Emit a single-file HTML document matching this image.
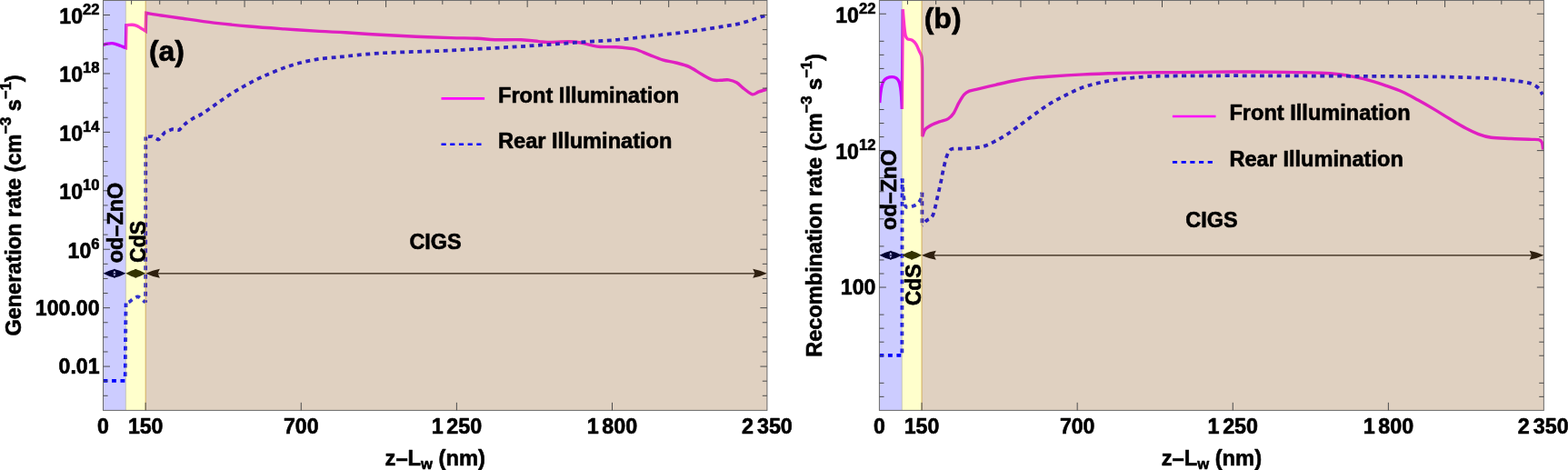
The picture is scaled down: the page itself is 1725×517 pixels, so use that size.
<!DOCTYPE html>
<html lang="en">
<head>
<meta charset="utf-8">
<title>Generation and recombination rate profiles</title>
<style>
html,body{margin:0;padding:0;background:#fff;}
body{width:1725px;height:517px;overflow:hidden;}
svg{display:block;}
text{white-space:pre;}
</style>
</head>
<body>
<svg width="1725" height="517" viewBox="0 0 1725 517">
<rect width="1725" height="517" fill="#fff"/>
<clipPath id="clip1"><rect x="113.50" y="0.45" width="730.40" height="450.95"/></clipPath>
<g clip-path="url(#clip1)">
<path d="M113.50 49.30 C114.25 49.10 116.38 48.38 118.00 48.10 C119.62 47.82 121.70 47.57 123.20 47.60 C124.70 47.63 125.70 47.93 127.00 48.30 C128.30 48.67 129.67 49.28 131.00 49.80 C132.33 50.32 133.77 50.93 135.00 51.40 C136.23 51.87 137.83 52.40 138.40 52.60 L138.90 27.80 C139.42 27.73 140.90 27.48 142.00 27.40 C143.10 27.32 144.33 27.23 145.50 27.30 C146.67 27.37 147.88 27.48 149.00 27.80 C150.12 28.12 151.03 28.57 152.20 29.20 C153.37 29.83 154.67 30.75 156.00 31.60 C157.33 32.45 159.50 33.85 160.20 34.30 L160.70 14.30 C163.48 14.75 171.40 16.10 177.40 17.00 C183.40 17.90 187.03 18.35 196.70 19.70 C206.37 21.05 222.50 23.55 235.40 25.10 C248.30 26.65 261.20 27.87 274.10 29.00 C287.00 30.13 299.90 31.00 312.80 31.90 C325.70 32.80 340.30 33.75 351.50 34.40 C362.70 35.05 368.80 35.15 380.00 35.80 C391.20 36.45 405.80 37.57 418.70 38.30 C431.60 39.03 444.52 39.65 457.40 40.20 C470.28 40.75 484.73 41.27 496.00 41.60 C507.27 41.93 516.93 41.85 525.00 42.20 C533.07 42.55 536.33 43.45 544.40 43.70 C552.47 43.95 565.33 43.38 573.40 43.70 C581.47 44.02 587.97 45.15 592.80 45.60 C597.63 46.05 596.87 46.37 602.40 46.40 C607.93 46.43 619.95 45.70 626.00 45.80 C632.05 45.90 634.57 46.32 638.70 47.00 C642.83 47.68 647.18 49.15 650.80 49.90 C654.42 50.65 655.97 51.18 660.40 51.50 C664.83 51.82 672.00 51.52 677.40 51.80 C682.80 52.08 689.03 52.75 692.80 53.20 C696.57 53.65 696.38 53.32 700.00 54.50 C703.62 55.68 709.67 58.42 714.50 60.30 C719.33 62.18 724.17 64.35 729.00 65.80 C733.83 67.25 738.67 67.73 743.50 69.00 C748.33 70.27 753.17 71.22 758.00 73.40 C762.83 75.58 768.15 79.68 772.50 82.10 C776.85 84.52 780.72 86.87 784.10 87.90 C787.48 88.93 789.88 88.30 792.80 88.30 C795.72 88.30 798.68 87.48 801.60 87.90 C804.52 88.32 807.40 89.12 810.30 90.80 C813.20 92.48 816.10 95.83 819.00 98.00 C821.90 100.17 825.05 103.32 827.70 103.80 C830.35 104.28 832.13 101.87 834.90 100.90 C837.67 99.93 842.73 98.48 844.30 98.00" fill="none" stroke="#ff00ff" stroke-width="3.4" stroke-linejoin="miter" stroke-miterlimit="3"/>
<g fill="none" stroke="#0000ff" stroke-width="3.75" stroke-dasharray="4.9 4.6" stroke-linejoin="bevel">
<path d="M113.50 418.80L137.70 418.80" stroke-dashoffset="0.00"/>
<path d="M137.70 418.80L138.60 333.40" stroke-dashoffset="4.75"/>
<path d="M138.60 333.40 C139.27 333.13 141.30 332.55 142.60 331.80 C143.90 331.05 144.95 329.80 146.40 328.90 C147.85 328.00 149.85 326.48 151.30 326.40 C152.75 326.32 153.63 327.35 155.10 328.40 C156.57 329.45 159.27 331.98 160.10 332.70" stroke-dashoffset="6.45"/>
<path d="M160.10 332.70L160.30 150.60" stroke-dashoffset="2.45"/>
<path d="M160.30 150.60 L167.30 150.00 L174.40 153.80 L181.30 145.60 L189.30 142.10 L197.00 143.10 L204.40 135.70 C205.70 134.80 209.45 131.92 212.20 130.30 C214.95 128.68 218.17 127.55 220.90 126.00 C223.63 124.45 226.02 122.77 228.60 121.00 C231.18 119.23 233.82 117.23 236.40 115.40 C238.98 113.57 241.53 111.77 244.10 110.00 C246.67 108.23 249.07 106.58 251.80 104.80 C254.53 103.02 257.75 100.95 260.50 99.30 C263.25 97.65 265.55 96.43 268.30 94.90 C271.05 93.37 274.10 91.62 277.00 90.10 C279.90 88.58 282.80 87.17 285.70 85.80 C288.60 84.43 289.88 83.78 294.40 81.90 C298.92 80.02 306.52 76.70 312.80 74.50 C319.08 72.30 325.65 70.32 332.10 68.70 C338.55 67.08 345.05 65.77 351.50 64.80 C357.95 63.83 365.40 63.45 370.80 62.90 C376.20 62.35 375.92 62.25 383.90 61.50 C391.88 60.75 406.45 59.17 418.70 58.40 C430.95 57.63 444.52 57.38 457.40 56.90 C470.28 56.42 483.12 56.08 496.00 55.50 C508.88 54.92 521.80 54.13 534.70 53.40 C547.60 52.67 560.50 51.93 573.40 51.10 C586.30 50.27 599.20 49.32 612.10 48.40 C625.00 47.48 639.48 46.38 650.80 45.60 C662.12 44.82 669.13 44.68 680.00 43.70 C690.87 42.72 703.55 41.12 716.00 39.70 C728.45 38.28 741.80 36.92 754.70 35.20 C767.60 33.48 783.72 30.92 793.40 29.40 C803.08 27.88 806.35 27.62 812.80 26.10 C819.25 24.58 827.43 21.75 832.10 20.30 C836.77 18.85 838.77 18.08 840.80 17.40 C842.83 16.72 843.72 16.40 844.30 16.20" stroke-dashoffset="6.80"/>
</g>
<g fill="#000"><path d="M113.50 300.85 Q120.17 297.15 126.84 295.85 L124.24 300.85 L126.84 305.85 Q120.17 304.55 113.50 300.85Z"/><path d="M138.39 300.85 Q131.72 297.15 125.04 295.85 L127.64 300.85 L125.04 305.85 Q131.72 304.55 138.39 300.85Z"/><line x1="119.50" y1="300.85" x2="132.39" y2="300.85" stroke="#000" stroke-width="1.3"/><path d="M138.39 300.85 Q144.43 297.15 150.48 295.85 L149.48 300.85 L150.48 305.85 Q144.43 304.55 138.39 300.85Z"/><path d="M160.16 300.85 Q154.12 297.15 148.08 295.85 L149.08 300.85 L148.08 305.85 Q154.12 304.55 160.16 300.85Z"/><line x1="144.39" y1="300.85" x2="154.16" y2="300.85" stroke="#000" stroke-width="1.6"/><line x1="172.16" y1="300.85" x2="831.90" y2="300.85" stroke="#000" stroke-width="1.3"/><path d="M160.16 300.85 Q168.01 297.15 175.86 295.85 L173.56 300.85 L175.86 305.85 Q168.01 304.55 160.16 300.85Z"/><path d="M843.90 300.85 Q836.05 297.15 828.20 295.85 L830.50 300.85 L828.20 305.85 Q836.05 304.55 843.90 300.85Z"/></g>
</g>
<rect x="113.50" y="0.45" width="24.89" height="450.95" fill="#0000ff" fill-opacity="0.2"/>
<rect x="138.39" y="0.45" width="21.78" height="450.95" fill="#ffff00" fill-opacity="0.2"/>
<rect x="160.16" y="0.45" width="683.74" height="450.95" fill="#996633" fill-opacity="0.3"/>
<line x1="138.39" y1="0.45" x2="138.39" y2="451.40" stroke="#8a8a70" stroke-opacity="0.45" stroke-width="0.8"/>
<line x1="160.16" y1="0.45" x2="160.16" y2="451.40" stroke="#c89632" stroke-opacity="0.8" stroke-width="0.9"/>
<g fill="none">
<rect x="113.50" y="0.45" width="730.40" height="450.95" stroke="#6a6a6a" stroke-width="1"/>
<path d="M144.61 0.45v4.40 M175.72 0.45v4.40 M206.83 0.45v4.40 M237.94 0.45v4.40 M269.05 0.45v7.50 M300.16 0.45v4.40 M331.27 0.45v4.40 M362.38 0.45v4.40 M393.49 0.45v4.40 M424.60 0.45v7.50 M455.71 0.45v4.40 M486.82 0.45v4.40 M517.93 0.45v4.40 M549.04 0.45v4.40 M580.15 0.45v7.50 M611.26 0.45v4.40 M642.37 0.45v4.40 M673.48 0.45v4.40 M704.59 0.45v4.40 M735.70 0.45v7.50 M766.81 0.45v4.40 M797.92 0.45v4.40 M829.03 0.45v4.40 M160.16 451.40v-8.60 M331.27 451.40v-8.60 M502.38 451.40v-8.60 M673.48 451.40v-8.60 M113.50 435.29h5.10 M843.90 435.29h-5.10 M113.50 419.19h5.10 M843.90 419.19h-5.10 M113.50 403.08h7.50 M843.90 403.08h-7.50 M113.50 386.97h5.10 M843.90 386.97h-5.10 M113.50 370.87h5.10 M843.90 370.87h-5.10 M113.50 354.76h5.10 M843.90 354.76h-5.10 M113.50 338.65h7.50 M843.90 338.65h-7.50 M113.50 322.54h5.10 M843.90 322.54h-5.10 M113.50 306.44h5.10 M843.90 306.44h-5.10 M113.50 290.33h5.10 M843.90 290.33h-5.10 M113.50 274.22h7.50 M843.90 274.22h-7.50 M113.50 258.12h5.10 M843.90 258.12h-5.10 M113.50 242.01h5.10 M843.90 242.01h-5.10 M113.50 225.90h5.10 M843.90 225.90h-5.10 M113.50 209.79h7.50 M843.90 209.79h-7.50 M113.50 193.69h5.10 M843.90 193.69h-5.10 M113.50 177.58h5.10 M843.90 177.58h-5.10 M113.50 161.47h5.10 M843.90 161.47h-5.10 M113.50 145.37h7.50 M843.90 145.37h-7.50 M113.50 129.26h5.10 M843.90 129.26h-5.10 M113.50 113.15h5.10 M843.90 113.15h-5.10 M113.50 97.05h5.10 M843.90 97.05h-5.10 M113.50 80.94h7.50 M843.90 80.94h-7.50 M113.50 64.83h5.10 M843.90 64.83h-5.10 M113.50 48.73h5.10 M843.90 48.73h-5.10 M113.50 32.62h5.10 M843.90 32.62h-5.10 M113.50 16.51h7.50 M843.90 16.51h-7.50" stroke="#4c4c4c" stroke-width="1"/>
</g>
<clipPath id="clip2"><rect x="967.40" y="0.45" width="730.95" height="450.95"/></clipPath>
<g clip-path="url(#clip2)">
<path d="M967.70 113.00 C967.87 111.25 968.30 105.60 968.70 102.50 C969.10 99.40 969.48 96.72 970.10 94.40 C970.72 92.08 971.43 90.05 972.40 88.60 C973.37 87.15 974.35 86.37 975.90 85.70 C977.45 85.03 979.97 84.52 981.70 84.60 C983.43 84.68 985.05 85.25 986.30 86.20 C987.55 87.15 988.47 88.55 989.20 90.30 C989.93 92.05 990.28 93.90 990.70 96.70 C991.12 99.50 991.43 103.22 991.70 107.10 C991.97 110.98 992.20 117.85 992.30 120.00 L993.20 10.20 C993.47 13.33 994.30 24.17 994.80 29.00 C995.30 33.83 995.60 36.90 996.20 39.20 C996.80 41.50 997.18 41.97 998.40 42.80 C999.62 43.63 1001.93 43.23 1003.50 44.20 C1005.07 45.17 1006.47 46.53 1007.80 48.60 C1009.13 50.67 1010.48 54.30 1011.50 56.60 C1012.52 58.90 1013.38 59.33 1013.90 62.40 C1014.42 65.47 1014.48 72.90 1014.60 75.00 L1014.60 150.00 C1014.68 149.83 1014.53 150.30 1015.10 149.00 C1015.67 147.70 1016.22 144.20 1018.00 142.20 C1019.78 140.20 1023.22 138.38 1025.80 137.00 C1028.38 135.62 1030.60 134.97 1033.50 133.90 C1036.40 132.83 1040.62 132.12 1043.20 130.60 C1045.78 129.08 1047.07 127.70 1049.00 124.80 C1050.93 121.90 1052.87 116.65 1054.80 113.20 C1056.73 109.75 1058.67 106.27 1060.60 104.10 C1062.53 101.93 1063.82 101.23 1066.40 100.20 C1068.98 99.17 1071.27 99.05 1076.10 97.90 C1080.93 96.75 1088.97 94.78 1095.40 93.30 C1101.83 91.82 1108.25 90.23 1114.70 89.00 C1121.15 87.77 1127.65 86.70 1134.10 85.90 C1140.55 85.10 1143.73 84.87 1153.40 84.20 C1163.07 83.53 1179.20 82.52 1192.10 81.90 C1205.00 81.28 1219.48 80.83 1230.80 80.50 C1242.12 80.17 1248.80 80.05 1260.00 79.90 C1271.20 79.75 1282.00 79.75 1298.00 79.60 C1314.00 79.45 1336.67 79.03 1356.00 79.00 C1375.33 78.97 1397.87 79.20 1414.00 79.40 C1430.13 79.60 1442.93 79.80 1452.80 80.20 C1462.67 80.60 1466.75 81.03 1473.20 81.80 C1479.65 82.57 1485.70 83.63 1491.50 84.80 C1497.30 85.97 1502.42 87.22 1508.00 88.80 C1513.58 90.38 1519.20 92.27 1525.00 94.30 C1530.80 96.33 1536.97 98.38 1542.80 101.00 C1548.63 103.62 1554.20 106.82 1560.00 110.00 C1565.80 113.18 1571.77 116.63 1577.60 120.10 C1583.43 123.57 1589.18 127.32 1595.00 130.80 C1600.82 134.28 1607.33 138.25 1612.50 141.00 C1617.67 143.75 1621.37 145.58 1626.00 147.30 C1630.63 149.02 1634.22 150.43 1640.30 151.30 C1646.38 152.17 1655.55 152.17 1662.50 152.50 C1669.45 152.83 1676.97 153.12 1682.00 153.30 C1687.03 153.48 1690.33 153.08 1692.70 153.60 C1695.07 154.12 1695.38 154.58 1696.20 156.40 C1697.02 158.22 1697.37 163.15 1697.60 164.50" fill="none" stroke="#ff00ff" stroke-width="3.4" stroke-linejoin="miter" stroke-miterlimit="3"/>
<g fill="none" stroke="#0000ff" stroke-width="3.75" stroke-dasharray="4.9 4.6" stroke-linejoin="bevel">
<path d="M967.40 390.90L992.40 390.90" stroke-dashoffset="0.00"/>
<path d="M992.40 390.90L992.60 196.50" stroke-dashoffset="6.95"/>
<path d="M992.60 196.50 C992.78 199.05 993.22 207.08 993.70 211.80 C994.18 216.52 994.83 222.10 995.50 224.80 C996.17 227.50 996.37 227.63 997.70 228.00 C999.03 228.37 1001.57 227.65 1003.50 227.00 C1005.43 226.35 1007.72 225.43 1009.30 224.10 C1010.88 222.77 1012.15 221.05 1013.00 219.00 C1013.85 216.95 1014.17 213.00 1014.40 211.80" stroke-dashoffset="0.00"/>
<path d="M1014.40 211.80L1014.40 248.00" stroke-dashoffset="0.00"/>
<path d="M1014.40 248.00 C1014.52 247.88 1014.25 248.22 1015.10 247.30 C1015.95 246.38 1018.05 243.72 1019.50 242.50 C1020.95 241.28 1022.60 241.13 1023.80 240.00 C1025.00 238.87 1025.85 237.75 1026.70 235.70 C1027.55 233.65 1028.17 230.72 1028.90 227.70 C1029.63 224.68 1030.37 220.87 1031.10 217.60 C1031.83 214.33 1032.58 211.25 1033.30 208.10 C1034.02 204.95 1034.72 201.98 1035.40 198.70 C1036.08 195.42 1036.43 192.70 1037.40 188.40 C1038.37 184.10 1039.92 176.78 1041.20 172.90 C1042.48 169.02 1043.80 166.65 1045.10 165.10 C1046.40 163.55 1047.07 163.85 1049.00 163.60 C1050.93 163.35 1053.80 163.67 1056.70 163.60 C1059.60 163.53 1063.17 163.43 1066.40 163.20 C1069.63 162.97 1072.88 162.78 1076.10 162.20 C1079.32 161.62 1082.48 160.90 1085.70 159.70 C1088.92 158.50 1092.17 156.70 1095.40 155.00 C1098.63 153.30 1101.88 151.50 1105.10 149.50 C1108.32 147.50 1109.87 146.47 1114.70 143.00 C1119.53 139.53 1127.65 133.35 1134.10 128.70 C1140.55 124.05 1146.95 119.13 1153.40 115.10 C1159.85 111.07 1166.35 107.72 1172.80 104.50 C1179.25 101.28 1185.65 98.12 1192.10 95.80 C1198.55 93.48 1205.05 92.05 1211.50 90.60 C1217.95 89.15 1225.40 87.90 1230.80 87.10 C1236.20 86.30 1239.15 86.25 1243.90 85.80 C1248.65 85.35 1253.50 84.75 1259.30 84.40 C1265.10 84.05 1269.02 83.88 1278.70 83.70 C1288.38 83.52 1298.07 83.37 1317.40 83.30 C1336.73 83.23 1368.92 83.23 1394.70 83.30 C1420.48 83.37 1447.88 83.58 1472.10 83.70 C1496.32 83.82 1519.87 83.85 1540.00 84.00 C1560.13 84.15 1576.35 84.23 1592.90 84.60 C1609.45 84.97 1627.70 85.58 1639.30 86.20 C1650.90 86.82 1656.30 87.63 1662.50 88.30 C1668.70 88.97 1672.63 89.50 1676.50 90.20 C1680.37 90.90 1683.00 91.35 1685.70 92.50 C1688.40 93.65 1690.83 95.17 1692.70 97.10 C1694.57 99.03 1696.20 102.93 1696.90 104.10" stroke-dashoffset="4.30"/>
</g>
<g fill="#000"><path d="M967.40 280.85 Q974.07 277.15 980.74 275.85 L978.14 280.85 L980.74 285.85 Q974.07 284.55 967.40 280.85Z"/><path d="M992.29 280.85 Q985.62 277.15 978.94 275.85 L981.54 280.85 L978.94 285.85 Q985.62 284.55 992.29 280.85Z"/><line x1="973.40" y1="280.85" x2="986.29" y2="280.85" stroke="#000" stroke-width="1.3"/><path d="M992.29 280.85 Q998.33 277.15 1004.38 275.85 L1003.38 280.85 L1004.38 285.85 Q998.33 284.55 992.29 280.85Z"/><path d="M1014.06 280.85 Q1008.02 277.15 1001.98 275.85 L1002.98 280.85 L1001.98 285.85 Q1008.02 284.55 1014.06 280.85Z"/><line x1="998.29" y1="280.85" x2="1008.06" y2="280.85" stroke="#000" stroke-width="1.6"/><line x1="1026.07" y1="280.85" x2="1686.35" y2="280.85" stroke="#000" stroke-width="1.3"/><path d="M1014.06 280.85 Q1021.91 277.15 1029.76 275.85 L1027.46 280.85 L1029.76 285.85 Q1021.91 284.55 1014.06 280.85Z"/><path d="M1698.35 280.85 Q1690.50 277.15 1682.65 275.85 L1684.95 280.85 L1682.65 285.85 Q1690.50 284.55 1698.35 280.85Z"/></g>
</g>
<rect x="967.40" y="0.45" width="24.89" height="450.95" fill="#0000ff" fill-opacity="0.2"/>
<rect x="992.29" y="0.45" width="21.78" height="450.95" fill="#ffff00" fill-opacity="0.2"/>
<rect x="1014.06" y="0.45" width="684.28" height="450.95" fill="#996633" fill-opacity="0.3"/>
<line x1="992.29" y1="0.45" x2="992.29" y2="451.40" stroke="#8a8a70" stroke-opacity="0.45" stroke-width="0.8"/>
<line x1="1014.06" y1="0.45" x2="1014.06" y2="451.40" stroke="#c89632" stroke-opacity="0.8" stroke-width="0.9"/>
<g fill="none">
<rect x="967.40" y="0.45" width="730.95" height="450.95" stroke="#6a6a6a" stroke-width="1"/>
<path d="M998.51 0.45v4.40 M1029.62 0.45v4.40 M1060.73 0.45v4.40 M1091.84 0.45v4.40 M1122.95 0.45v7.50 M1154.06 0.45v4.40 M1185.17 0.45v4.40 M1216.28 0.45v4.40 M1247.39 0.45v4.40 M1278.50 0.45v7.50 M1309.61 0.45v4.40 M1340.72 0.45v4.40 M1371.83 0.45v4.40 M1402.94 0.45v4.40 M1434.05 0.45v7.50 M1465.16 0.45v4.40 M1496.27 0.45v4.40 M1527.38 0.45v4.40 M1558.49 0.45v4.40 M1589.60 0.45v7.50 M1620.71 0.45v4.40 M1651.82 0.45v4.40 M1682.93 0.45v4.40 M1014.06 451.40v-8.60 M1185.17 451.40v-8.60 M1356.28 451.40v-8.60 M1527.38 451.40v-8.60 M967.40 436.36h5.10 M1698.35 436.36h-5.10 M967.40 421.32h5.10 M1698.35 421.32h-5.10 M967.40 391.24h5.10 M1698.35 391.24h-5.10 M967.40 376.20h5.10 M1698.35 376.20h-5.10 M967.40 361.16h5.10 M1698.35 361.16h-5.10 M967.40 346.12h5.10 M1698.35 346.12h-5.10 M967.40 316.04h7.50 M1698.35 316.04h-7.50 M967.40 301.00h5.10 M1698.35 301.00h-5.10 M967.40 285.96h5.10 M1698.35 285.96h-5.10 M967.40 270.92h5.10 M1698.35 270.92h-5.10 M967.40 240.84h5.10 M1698.35 240.84h-5.10 M967.40 225.80h5.10 M1698.35 225.80h-5.10 M967.40 210.76h5.10 M1698.35 210.76h-5.10 M967.40 195.72h5.10 M1698.35 195.72h-5.10 M967.40 165.64h7.50 M1698.35 165.64h-7.50 M967.40 150.60h5.10 M1698.35 150.60h-5.10 M967.40 135.56h5.10 M1698.35 135.56h-5.10 M967.40 120.52h5.10 M1698.35 120.52h-5.10 M967.40 90.44h5.10 M1698.35 90.44h-5.10 M967.40 75.40h5.10 M1698.35 75.40h-5.10 M967.40 60.36h5.10 M1698.35 60.36h-5.10 M967.40 45.32h5.10 M1698.35 45.32h-5.10 M967.40 15.24h7.50 M1698.35 15.24h-7.50" stroke="#4c4c4c" stroke-width="1"/>
</g>
<g fill="#000" stroke="#000" stroke-width="0.6" stroke-linejoin="round">
<text x="109.50" y="25.81" text-anchor="end" font-family="Liberation Sans, Arial, Helvetica, sans-serif" font-weight="bold" font-size="23.10">10<tspan font-size="16.60" dy="-9.90">22</tspan></text>
<text x="109.50" y="90.24" text-anchor="end" font-family="Liberation Sans, Arial, Helvetica, sans-serif" font-weight="bold" font-size="23.10">10<tspan font-size="16.60" dy="-9.90">18</tspan></text>
<text x="109.50" y="154.67" text-anchor="end" font-family="Liberation Sans, Arial, Helvetica, sans-serif" font-weight="bold" font-size="23.10">10<tspan font-size="16.60" dy="-9.90">14</tspan></text>
<text x="109.50" y="219.09" text-anchor="end" font-family="Liberation Sans, Arial, Helvetica, sans-serif" font-weight="bold" font-size="23.10">10<tspan font-size="16.60" dy="-9.90">10</tspan></text>
<text x="109.50" y="283.52" text-anchor="end" font-family="Liberation Sans, Arial, Helvetica, sans-serif" font-weight="bold" font-size="23.10">10<tspan font-size="16.60" dy="-9.90">6</tspan></text>
<text x="109.50" y="346.85" text-anchor="end" font-family="Liberation Sans, Arial, Helvetica, sans-serif" font-weight="bold" font-size="23.10">100.00</text>
<text x="109.50" y="411.28" text-anchor="end" font-family="Liberation Sans, Arial, Helvetica, sans-serif" font-weight="bold" font-size="23.10">0.01</text>
<text x="963.40" y="24.54" text-anchor="end" font-family="Liberation Sans, Arial, Helvetica, sans-serif" font-weight="bold" font-size="23.10">10<tspan font-size="16.60" dy="-9.90">22</tspan></text>
<text x="963.40" y="174.94" text-anchor="end" font-family="Liberation Sans, Arial, Helvetica, sans-serif" font-weight="bold" font-size="23.10">10<tspan font-size="16.60" dy="-9.90">12</tspan></text>
<text x="963.40" y="324.24" text-anchor="end" font-family="Liberation Sans, Arial, Helvetica, sans-serif" font-weight="bold" font-size="23.10">100</text>
<text x="113.50" y="476.60" text-anchor="middle" font-family="Liberation Sans, Arial, Helvetica, sans-serif" font-weight="bold" font-size="23.10">0</text>
<text x="160.16" y="476.60" text-anchor="middle" font-family="Liberation Sans, Arial, Helvetica, sans-serif" font-weight="bold" font-size="23.10">150</text>
<text x="331.27" y="476.60" text-anchor="middle" font-family="Liberation Sans, Arial, Helvetica, sans-serif" font-weight="bold" font-size="23.10">700</text>
<text x="502.38" y="476.60" text-anchor="middle" font-family="Liberation Sans, Arial, Helvetica, sans-serif" font-weight="bold" font-size="23.30">1&#8201;<tspan dx="-1.06">250</tspan></text>
<text x="673.48" y="476.60" text-anchor="middle" font-family="Liberation Sans, Arial, Helvetica, sans-serif" font-weight="bold" font-size="23.30">1&#8201;<tspan dx="-1.06">800</tspan></text>
<text x="843.88" y="476.60" text-anchor="middle" font-family="Liberation Sans, Arial, Helvetica, sans-serif" font-weight="bold" font-size="23.30">2&#8201;<tspan dx="-0.66">350</tspan></text>
<text x="478.70" y="512.30" text-anchor="middle" font-family="Liberation Sans, Arial, Helvetica, sans-serif" font-weight="bold" font-size="23.70">z–L<tspan font-size="16.60" dy="3.8">w</tspan><tspan dy="-3.8"> (nm)</tspan></text>
<text x="967.40" y="476.60" text-anchor="middle" font-family="Liberation Sans, Arial, Helvetica, sans-serif" font-weight="bold" font-size="23.10">0</text>
<text x="1014.06" y="476.60" text-anchor="middle" font-family="Liberation Sans, Arial, Helvetica, sans-serif" font-weight="bold" font-size="23.10">150</text>
<text x="1185.17" y="476.60" text-anchor="middle" font-family="Liberation Sans, Arial, Helvetica, sans-serif" font-weight="bold" font-size="23.10">700</text>
<text x="1356.28" y="476.60" text-anchor="middle" font-family="Liberation Sans, Arial, Helvetica, sans-serif" font-weight="bold" font-size="23.30">1&#8201;<tspan dx="-1.06">250</tspan></text>
<text x="1527.38" y="476.60" text-anchor="middle" font-family="Liberation Sans, Arial, Helvetica, sans-serif" font-weight="bold" font-size="23.30">1&#8201;<tspan dx="-1.06">800</tspan></text>
<text x="1697.78" y="476.60" text-anchor="middle" font-family="Liberation Sans, Arial, Helvetica, sans-serif" font-weight="bold" font-size="23.30">2&#8201;<tspan dx="-0.66">350</tspan></text>
<text x="1332.88" y="512.30" text-anchor="middle" font-family="Liberation Sans, Arial, Helvetica, sans-serif" font-weight="bold" font-size="23.70">z–L<tspan font-size="16.60" dy="3.8">w</tspan><tspan dy="-3.8"> (nm)</tspan></text>
<text transform="translate(23.20 369.60) rotate(-90)" font-family="Liberation Sans, Arial, Helvetica, sans-serif" font-weight="bold" font-size="23.50">Generation rate (cm<tspan font-size="16.60" dy="-11.10">−3</tspan><tspan dy="11.10"> s</tspan><tspan font-size="16.60" dy="-11.10">−1</tspan><tspan dy="11.10">)</tspan></text>
<text transform="translate(904.00 392.80) rotate(-90)" font-family="Liberation Sans, Arial, Helvetica, sans-serif" font-weight="bold" font-size="23.57">Recombination rate (cm<tspan font-size="16.60" dy="-11.10">−3</tspan><tspan dy="11.10"> s</tspan><tspan font-size="16.60" dy="-11.10">−1</tspan><tspan dy="11.10">)</tspan></text>
<line x1="485.50" y1="108.40" x2="533.10" y2="108.40" stroke="#ff00ff" stroke-width="2.6"/>
<text x="548.00" y="112.70" font-family="Liberation Sans, Arial, Helvetica, sans-serif" font-weight="bold" font-size="23.60">Front Illumination</text>
<line x1="485.50" y1="158.80" x2="533.10" y2="158.80" stroke="#0000ff" stroke-width="2.6" stroke-dasharray="5.2 4.5"/>
<text x="548.00" y="163.20" font-family="Liberation Sans, Arial, Helvetica, sans-serif" font-weight="bold" font-size="23.60">Rear Illumination</text>
<line x1="1289.90" y1="128.00" x2="1337.50" y2="128.00" stroke="#ff00ff" stroke-width="2.6"/>
<text x="1352.40" y="132.30" font-family="Liberation Sans, Arial, Helvetica, sans-serif" font-weight="bold" font-size="23.60">Front Illumination</text>
<line x1="1289.90" y1="178.40" x2="1337.50" y2="178.40" stroke="#0000ff" stroke-width="2.6" stroke-dasharray="5.2 4.5"/>
<text x="1352.40" y="182.80" font-family="Liberation Sans, Arial, Helvetica, sans-serif" font-weight="bold" font-size="23.60">Rear Illumination</text>
<text x="163.9" y="67.3" font-family="Liberation Sans, Arial, Helvetica, sans-serif" font-weight="bold" font-size="32">(a)</text>
<text x="1016.7" y="30.7" font-family="Liberation Sans, Arial, Helvetica, sans-serif" font-weight="bold" font-size="32">(b)</text>
<text x="479" y="274.1" text-anchor="middle" font-family="Liberation Sans, Arial, Helvetica, sans-serif" font-weight="bold" font-size="23.40">CIGS</text>
<text x="1332.9" y="249.9" text-anchor="middle" font-family="Liberation Sans, Arial, Helvetica, sans-serif" font-weight="bold" font-size="23.40">CIGS</text>
<text transform="translate(134.80 289.20) rotate(-90)" font-family="Liberation Sans, Arial, Helvetica, sans-serif" font-weight="bold" font-size="23.40">od–ZnO</text>
<text transform="translate(159.50 288.90) rotate(-90)" font-family="Liberation Sans, Arial, Helvetica, sans-serif" font-weight="bold" font-size="23.00">CdS</text>
<text transform="translate(986.20 252.90) rotate(-90)" font-family="Liberation Sans, Arial, Helvetica, sans-serif" font-weight="bold" font-size="23.40">od–ZnO</text>
<text transform="translate(1013.20 336.30) rotate(-90)" font-family="Liberation Sans, Arial, Helvetica, sans-serif" font-weight="bold" font-size="23.00">CdS</text>
</g>
</svg>
</body>
</html>
